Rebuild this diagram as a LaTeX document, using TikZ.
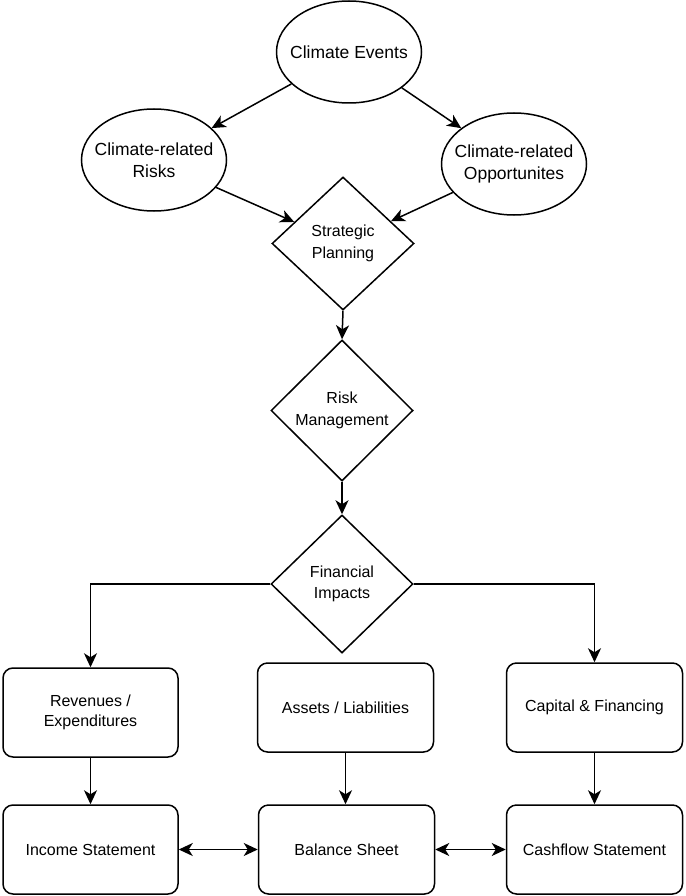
\documentclass[tikz,border=0pt]{standalone}
\usepackage{fontspec}
\setmainfont{Liberation Sans}
\usetikzlibrary{shapes.geometric,arrows.meta}
\begin{document}
\begin{tikzpicture}[x=1pt,y=-1pt,
  line width=1.5pt,
  ell/.style={draw,ellipse,fill=white,inner sep=0pt,minimum width=145pt,minimum height=102pt},
  elltxt/.style={inner sep=0pt,align=center,font=\fontsize{17.5}{22}\selectfont},
  dia/.style={draw,diamond,fill=white,inner sep=0pt,minimum width=142pt,align=center,font=\fontsize{16}{21.5}\selectfont},
  box/.style={draw,rectangle,rounded corners=10pt,fill=white,inner sep=0pt,minimum width=176pt,minimum height=89pt,align=center,font=\fontsize{16}{20.5}\selectfont},
  tip/.tip={Stealth[length=14pt,width=13pt,inset=4pt]},
  arr/.style={-tip},
  darr/.style={tip-tip}
]
\useasboundingbox (0,0) rectangle (685,896);
\node[ell] (ev) at (349,52) {};
\node[elltxt] (evt) at (ev.center) {Climate Events};
\node[ell] (risk) at (154,160) {};
\node[elltxt] (riskt) at (risk.center) {Climate-related\\Risks};
\node[ell] (opp) at (514,164) {};
\node[elltxt] (oppt) at (opp.center) {Climate-related\\Opportunites};
\node[dia,minimum height=133pt] (sp) at (343,243.5) {Strategic\\Planning};
\node[dia,minimum height=141pt] (rm) at (342,410.5) {Risk\\Management};
\node[dia,minimum height=138pt] (fi) at (342,584) {Financial\\Impacts};
\node[box,minimum width=175pt] (rev) at (90.5,712.5) {Revenues /\\Expenditures};
\node[box] (al) at (345.5,707.5) {Assets / Liabilities};
\node[box] (cap) at (594.5,707.5) {Capital \& Financing};
\node[box,minimum width=175pt] (inc) at (90.5,849.5) {Income Statement};
\node[box] (bs) at (346.5,849.5) {Balance Sheet};
\node[box] (cs) at (594.5,849.5) {Cashflow Statement};
\draw[arr] (ev) -- (risk);
\draw[arr] (ev) -- (opp);
\draw[arr] (risk) -- (sp);
\draw[arr] (opp) -- (sp);
\draw[arr] (sp.south) -- (rm.north);
\draw[arr] (rm.south) -- (fi.north);
\draw[arr] (fi.west) -| (rev.north);
\draw[arr] (fi.east) -| (cap.north);
\draw[arr] (rev.south) -- (inc.north);
\draw[arr] (al.south) -- (al.south |- bs.north);
\draw[arr] (cap.south) -- (cs.north);
\draw[darr] (inc.east) -- (bs.west);
\draw[darr] (bs.east) -- (cs.west);
\end{tikzpicture}
\end{document}
